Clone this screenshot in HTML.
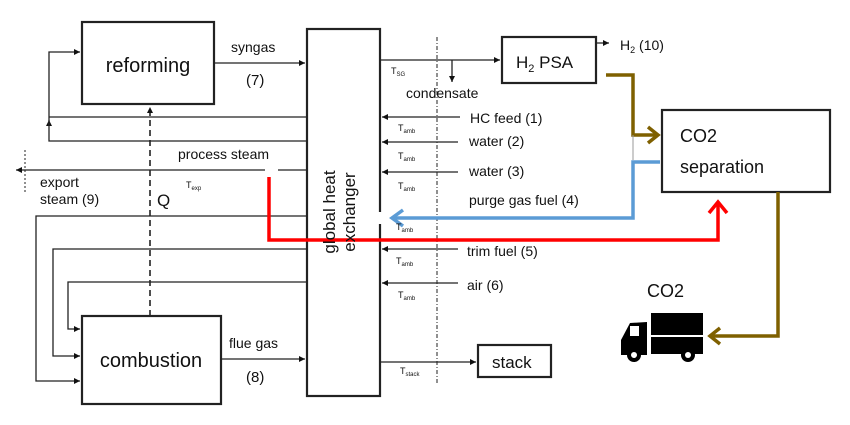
<!DOCTYPE html>
<html><head><style>body{margin:0;background:#fff}svg{display:block}text{font-family:"Liberation Sans",sans-serif;fill:#111}</style></head><body>
<svg width="850" height="425" viewBox="0 0 850 425">
<defs>
<marker id="a" markerWidth="8" markerHeight="8" refX="6" refY="3" orient="auto" markerUnits="userSpaceOnUse"><path d="M0,0L6,3L0,6z" fill="#111"/></marker>
</defs>
<g stroke="#222" fill="none" stroke-width="1.3">
<rect x="82" y="22" width="132" height="82" stroke-width="2.2"/>
<rect x="82" y="316" width="139" height="88" stroke-width="2.2"/>
<rect x="307" y="29" width="73" height="367" stroke-width="2.2"/>
<rect x="502" y="37" width="94" height="46" stroke-width="2.2"/>
<rect x="478" y="345" width="73" height="32" stroke-width="2.2"/>
<rect x="662" y="110" width="168" height="82" stroke-width="2.2"/>
<line x1="214" y1="63" x2="305" y2="63" marker-end="url(#a)"/>
<line x1="221" y1="359" x2="305" y2="359" marker-end="url(#a)"/>
<line x1="307" y1="117" x2="49" y2="117"/>
<line x1="49" y1="125" x2="49" y2="120" marker-end="url(#a)"/>
<polyline points="307,141 49,141 49,52 80,52" marker-end="url(#a)"/>
<line x1="265" y1="170" x2="16" y2="170" marker-end="url(#a)"/>
<line x1="307" y1="170" x2="278" y2="170"/>
<line x1="25" y1="150" x2="25" y2="192" stroke-dasharray="2,2" stroke-width="1"/>
<line x1="150" y1="316" x2="150" y2="107" stroke-dasharray="6,4" stroke-width="1.6" marker-end="url(#a)"/>
<polyline points="307,216 36,216 36,381 80,381" marker-end="url(#a)"/>
<polyline points="307,249 53,249 53,356 80,356" marker-end="url(#a)"/>
<polyline points="307,282 68,282 68,329 80,329" marker-end="url(#a)"/>
<line x1="380" y1="60" x2="500" y2="60" marker-end="url(#a)"/>
<line x1="452" y1="60" x2="452" y2="82" marker-end="url(#a)"/>
<line x1="437" y1="37" x2="437" y2="385" stroke-dasharray="4,2,1,2" stroke-width="1"/>
<polyline points="596,72 596,43 609,43" marker-end="url(#a)"/>
<line x1="460" y1="117" x2="382" y2="117" marker-end="url(#a)"/>
<line x1="458" y1="142" x2="382" y2="142" marker-end="url(#a)"/>
<line x1="458" y1="172" x2="382" y2="172" marker-end="url(#a)"/>
<line x1="458" y1="249" x2="382" y2="249" marker-end="url(#a)"/>
<line x1="458" y1="283" x2="382" y2="283" marker-end="url(#a)"/>
<line x1="380" y1="362" x2="476" y2="362" marker-end="url(#a)"/>
</g>
<rect x="377" y="212" width="6" height="12" fill="#fff"/>
<g fill="none" stroke-width="3.5">
<polyline points="269,177 269,240 718,240 718,204" stroke="#f00"/>
<polyline points="709,213 718,202 727,213" stroke="#f00"/>
<polyline points="660,162 633,162 633,218 392,218" stroke="#5b9bd5"/>
<polyline points="403,210 392,218 403,226" stroke="#5b9bd5"/>
<polyline points="606,75 633,75 633,135 658,135" stroke="#7f6000"/>
<polyline points="648,127 658,135 648,143" stroke="#7f6000"/>
<polyline points="778,192 778,336 710,336" stroke="#7f6000"/>
<polyline points="720,328 710,336 720,344" stroke="#7f6000"/>
</g>
<line x1="633" y1="135" x2="633" y2="160" stroke="#999" stroke-width="1"/>
<g fill="#000">
<rect x="651" y="313" width="52" height="22"/><rect x="651" y="337" width="52" height="17"/>
<path d="M621,355 L621,340 L630,323 L647,322 L647,355z"/>
<rect x="630" y="326" width="9" height="10" fill="#fff"/>
<circle cx="634" cy="355" r="7"/><circle cx="688" cy="355" r="7"/>
<circle cx="634" cy="355" r="3" fill="#fff"/><circle cx="688" cy="355" r="3" fill="#fff"/>
</g>
<text x="148" y="72" font-size="20" text-anchor="middle">reforming</text>
<text x="151" y="367" font-size="20" text-anchor="middle">combustion</text>
<text x="231" y="52" font-size="14">syngas</text>
<text x="246" y="85" font-size="15">(7)</text>
<text x="229" y="348" font-size="14">flue gas</text>
<text x="246" y="382" font-size="15">(8)</text>
<text x="178" y="159" font-size="14">process steam</text>
<text x="40" y="187" font-size="14">export</text>
<text x="40" y="204" font-size="14">steam (9)</text>
<text x="157" y="206" font-size="17">Q</text>
<text x="186" y="188" font-size="9">T<tspan font-size="6" dy="2">exp</tspan></text>
<text transform="translate(335,212) rotate(-90)" font-size="17" text-anchor="middle">global heat</text>
<text transform="translate(355,212) rotate(-90)" font-size="17" text-anchor="middle">exchanger</text>
<text x="391" y="74" font-size="9">T<tspan font-size="6" dy="2">SG</tspan></text>
<text x="406" y="98" font-size="14">condensate</text>
<text x="516" y="68" font-size="17">H<tspan font-size="11" dy="4">2</tspan><tspan dy="-4"> PSA</tspan></text>
<text x="620" y="50" font-size="14">H<tspan font-size="9" dy="3">2</tspan><tspan dy="-3"> (10)</tspan></text>
<text x="470" y="123" font-size="14">HC feed (1)</text>
<text x="469" y="146" font-size="14">water (2)</text>
<text x="469" y="176" font-size="14">water (3)</text>
<text x="469" y="205" font-size="14">purge gas fuel (4)</text>
<text x="467" y="256" font-size="14">trim fuel (5)</text>
<text x="467" y="290" font-size="14">air (6)</text>
<g font-size="9"><text x="398" y="131">T<tspan font-size="6" dy="2">amb</tspan></text>
<text x="398" y="159">T<tspan font-size="6" dy="2">amb</tspan></text>
<text x="398" y="189">T<tspan font-size="6" dy="2">amb</tspan></text>
<text x="396" y="230">T<tspan font-size="6" dy="2">amb</tspan></text>
<text x="396" y="264">T<tspan font-size="6" dy="2">amb</tspan></text>
<text x="398" y="298">T<tspan font-size="6" dy="2">amb</tspan></text>
<text x="400" y="374">T<tspan font-size="6" dy="2">stack</tspan></text></g>
<text x="492" y="368" font-size="17">stack</text>
<text x="680" y="142" font-size="18">CO2</text>
<text x="680" y="173" font-size="18">separation</text>
<text x="647" y="297" font-size="18">CO2</text>
</svg>
</body></html>
